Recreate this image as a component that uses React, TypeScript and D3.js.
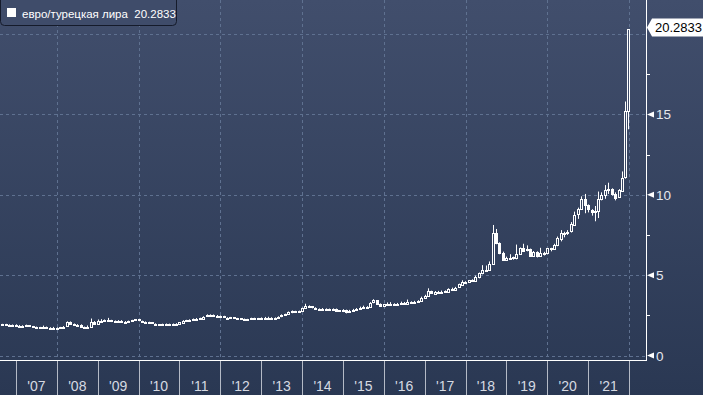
import React, { useEffect, useRef } from 'react';
import * as d3 from 'd3';

// monthly candles, Aug 2006 .. Dec 2021 (EUR/TRY)
const startMonth = new Date(2006, 7, 1);
const lastBarDate = new Date(2021, 11, 20);
const seriesName = 'евро/турецкая лира';
const lastPrice = '20.2833';

const opens = [
  1.92, 1.94, 1.92, 1.89, 1.90,
  1.86, 1.84, 1.85, 1.87, 1.82, 1.79, 1.76, 1.71, 1.78, 1.72, 1.72, 1.74,
  1.70, 1.77, 1.80, 2.07, 1.97, 1.91, 1.92, 1.78, 1.72, 1.80, 2.10, 1.99,
  2.15, 2.17, 2.21, 2.19, 2.12, 2.14, 2.15, 2.11, 2.08, 2.15, 2.19, 2.24,
  2.15, 2.09, 2.09, 2.06, 1.99, 1.95, 1.93, 1.95, 1.92, 1.96, 1.98, 1.96,
  2.06, 2.17, 2.19, 2.19, 2.27, 2.27, 2.32, 2.42, 2.50, 2.51, 2.42, 2.45,
  2.44, 2.36, 2.36, 2.37, 2.30, 2.31, 2.29, 2.22, 2.26, 2.32, 2.32, 2.31,
  2.36, 2.33, 2.36, 2.32, 2.34, 2.42, 2.51, 2.57, 2.71, 2.75, 2.75, 2.76,
  2.96, 3.10, 3.05, 2.96, 2.88, 2.85, 2.90, 2.87, 2.86, 2.90, 2.80, 2.77,
  2.83, 2.73, 2.79, 2.83, 2.91, 2.97, 3.02, 3.03, 3.29, 3.43, 3.20, 3.07,
  3.18, 3.22, 3.18, 3.20, 3.23, 3.28, 3.19, 3.31, 3.30, 3.35, 3.40, 3.58,
  3.71, 4.00, 3.86, 3.97, 3.89, 3.96, 4.00, 4.16, 4.13, 4.23, 4.42, 4.58,
  4.55, 4.68, 4.66, 4.88, 5.13, 5.32, 5.33, 5.70, 7.60, 6.98, 6.35, 5.93,
  6.06, 6.04, 6.10, 6.33, 6.70, 6.54, 6.63, 6.17, 6.41, 6.17, 6.37, 6.35,
  6.66, 6.61, 6.88, 7.29, 7.65, 7.65, 7.70, 8.15, 8.77, 9.10, 9.75, 9.35,
  9.08, 8.94, 9.01, 9.76, 9.99, 10.32, 10.35, 10.06, 9.83, 10.29, 11.07, 15.20,
];

const highs = [
  1.97, 1.97, 1.94, 1.93, 1.94,
  1.90, 1.88, 1.92, 1.88, 1.84, 1.80, 1.78, 1.86, 1.80, 1.76, 1.78, 1.75,
  1.78, 1.83, 2.12, 2.12, 1.99, 1.95, 1.94, 1.80, 1.87, 2.30, 2.14, 2.24,
  2.26, 2.24, 2.34, 2.22, 2.18, 2.20, 2.20, 2.14, 2.17, 2.22, 2.26, 2.25,
  2.17, 2.12, 2.10, 2.07, 2.00, 1.96, 1.98, 1.99, 1.98, 1.99, 2.01, 2.08,
  2.20, 2.22, 2.25, 2.30, 2.33, 2.35, 2.44, 2.56, 2.56, 2.55, 2.52, 2.49,
  2.47, 2.38, 2.40, 2.38, 2.34, 2.33, 2.30, 2.28, 2.35, 2.35, 2.34, 2.37,
  2.40, 2.41, 2.38, 2.37, 2.44, 2.56, 2.60, 2.74, 2.80, 2.78, 2.79, 2.98,
  3.22, 3.12, 3.08, 3.00, 2.93, 2.95, 2.93, 2.92, 2.93, 2.92, 2.82, 2.88,
  2.85, 2.84, 2.90, 2.95, 3.04, 3.10, 3.07, 3.32, 3.50, 3.45, 3.24, 3.21,
  3.30, 3.32, 3.25, 3.27, 3.35, 3.33, 3.48, 3.37, 3.40, 3.44, 3.66, 3.78,
  4.18, 4.03, 4.01, 4.02, 4.04, 4.05, 4.18, 4.22, 4.27, 4.47, 4.68, 4.62,
  4.70, 4.74, 4.97, 5.16, 5.62, 5.60, 5.85, 8.12, 7.87, 7.04, 6.46, 6.15,
  6.30, 6.15, 6.90, 6.72, 6.95, 6.85, 6.65, 6.50, 6.48, 6.70, 6.45, 6.68,
  6.70, 6.95, 7.40, 7.80, 7.70, 7.80, 8.30, 8.95, 9.20, 9.90, 10.05, 9.40,
  9.10, 9.30, 10.20, 10.15, 10.60, 10.75, 10.40, 10.15, 10.35, 11.45, 15.80, 20.30,
];

const lows = [
  1.89, 1.90, 1.86, 1.86, 1.84,
  1.83, 1.82, 1.84, 1.80, 1.77, 1.74, 1.68, 1.70, 1.70, 1.69, 1.70, 1.67,
  1.69, 1.75, 1.79, 1.93, 1.88, 1.86, 1.76, 1.69, 1.70, 1.79, 1.93, 1.97,
  2.08, 2.12, 2.17, 2.08, 2.09, 2.11, 2.10, 2.07, 2.06, 2.13, 2.16, 2.13,
  2.07, 2.05, 2.03, 1.98, 1.88, 1.86, 1.90, 1.90, 1.91, 1.94, 1.93, 1.95,
  2.05, 2.13, 2.17, 2.16, 2.24, 2.25, 2.28, 2.40, 2.44, 2.40, 2.41, 2.41,
  2.33, 2.31, 2.33, 2.29, 2.27, 2.27, 2.18, 2.19, 2.25, 2.30, 2.28, 2.29,
  2.32, 2.32, 2.29, 2.30, 2.31, 2.38, 2.49, 2.55, 2.63, 2.67, 2.70, 2.75,
  2.94, 2.99, 2.93, 2.88, 2.81, 2.84, 2.83, 2.83, 2.79, 2.78, 2.74, 2.70,
  2.62, 2.70, 2.76, 2.82, 2.88, 2.94, 2.92, 3.02, 3.25, 3.17, 3.04, 3.06,
  3.15, 3.19, 3.12, 3.17, 3.21, 3.18, 3.17, 3.24, 3.28, 3.32, 3.38, 3.56,
  3.69, 3.83, 3.83, 3.85, 3.88, 3.93, 3.99, 4.07, 4.05, 4.21, 4.40, 4.51,
  4.52, 4.60, 4.65, 4.80, 5.05, 5.24, 5.30, 5.68, 6.92, 6.30, 5.90, 5.90,
  5.96, 5.96, 5.98, 6.28, 6.50, 6.48, 6.13, 6.15, 6.10, 6.15, 6.22, 6.30,
  6.48, 6.58, 6.80, 7.10, 7.35, 7.50, 7.65, 8.10, 8.50, 9.05, 8.85, 8.90,
  8.70, 8.35, 8.55, 9.65, 9.75, 10.05, 9.95, 9.65, 9.80, 10.25, 11.00, 14.07,
];

const closes = [
  1.94, 1.92, 1.89, 1.90, 1.86,
  1.84, 1.85, 1.87, 1.82, 1.79, 1.76, 1.71, 1.78, 1.72, 1.72, 1.74, 1.70,
  1.77, 1.80, 2.07, 1.97, 1.91, 1.92, 1.78, 1.72, 1.80, 2.10, 1.99, 2.15,
  2.17, 2.21, 2.19, 2.12, 2.14, 2.15, 2.11, 2.08, 2.15, 2.19, 2.24, 2.15,
  2.09, 2.09, 2.06, 1.99, 1.95, 1.93, 1.95, 1.92, 1.96, 1.98, 1.96, 2.06,
  2.17, 2.19, 2.19, 2.27, 2.27, 2.32, 2.42, 2.50, 2.51, 2.42, 2.45, 2.44,
  2.36, 2.36, 2.37, 2.30, 2.31, 2.29, 2.22, 2.26, 2.32, 2.32, 2.31, 2.36,
  2.33, 2.36, 2.32, 2.34, 2.42, 2.51, 2.57, 2.71, 2.75, 2.75, 2.76, 2.96,
  3.10, 3.05, 2.96, 2.88, 2.85, 2.90, 2.87, 2.86, 2.90, 2.80, 2.77, 2.83,
  2.73, 2.79, 2.83, 2.91, 2.97, 3.02, 3.03, 3.29, 3.43, 3.20, 3.07, 3.18,
  3.22, 3.18, 3.20, 3.23, 3.28, 3.19, 3.31, 3.30, 3.35, 3.40, 3.58, 3.71,
  4.00, 3.86, 3.97, 3.89, 3.96, 4.00, 4.16, 4.13, 4.23, 4.42, 4.58, 4.55,
  4.68, 4.66, 4.88, 5.13, 5.32, 5.33, 5.70, 7.60, 6.98, 6.35, 5.93, 6.06,
  6.04, 6.10, 6.33, 6.70, 6.54, 6.63, 6.17, 6.41, 6.17, 6.37, 6.35, 6.66,
  6.61, 6.88, 7.29, 7.65, 7.65, 7.70, 8.15, 8.77, 9.10, 9.75, 9.35, 9.08,
  8.94, 9.01, 9.76, 9.99, 10.32, 10.35, 10.06, 9.83, 10.29, 11.07, 15.20, 20.28,
];

const yearTicks = d3.range(2007, 2022);
const yTicks = [0, 5, 10, 15];
const yMinorTicks = [2.5, 7.5, 12.5, 17.5];

const W = 703;
const H = 395;
const plotRight = 646;
const plotBottom = 360;
const FONT = '"Liberation Sans", Arial, sans-serif';

const App: React.FC = () => {
  const svgRef = useRef<SVGSVGElement>(null);

  useEffect(() => {
    if (!svgRef.current) return;
    const svg = d3.select(svgRef.current);
    svg.selectAll('*').remove();

    const data = closes.map((c, i) => ({
      date: i === closes.length - 1
        ? lastBarDate
        : d3.timeDay.offset(d3.timeMonth.offset(startMonth, i + 1), -1),
      open: opens[i],
      high: highs[i],
      low: lows[i],
      close: c,
    }));

    const x = d3.scaleTime()
      .domain([new Date(2007, 0, 1), new Date(2022, 0, 1)])
      .range([16, 629]);
    const y = d3.scaleLinear().domain([0, 20]).range([355.5, 34]);
    const px = (v: number) => Math.round(v) + 0.5;

    const defs = svg.append('defs');
    const grad = defs.append('linearGradient')
      .attr('id', 'bg').attr('gradientUnits', 'userSpaceOnUse')
      .attr('x1', 0).attr('y1', 0).attr('x2', 0).attr('y2', H);
    grad.append('stop').attr('offset', '0%').attr('stop-color', '#414e6c');
    grad.append('stop').attr('offset', '100%').attr('stop-color', '#2a3853');
    defs.append('clipPath').attr('id', 'plot')
      .append('rect').attr('x', 0).attr('y', 0).attr('width', plotRight).attr('height', plotBottom);

    svg.append('rect').attr('width', W).attr('height', H).attr('fill', 'url(#bg)');

    // dashed grid
    const grid = svg.append('g')
      .attr('stroke', '#5f7190').attr('stroke-width', 1).attr('stroke-dasharray', '3,3');
    [0, 5, 10, 15, 20].forEach(v => {
      grid.append('line')
        .attr('x1', 0).attr('x2', plotRight)
        .attr('y1', px(y(v))).attr('y2', px(y(v)));
    });
    d3.range(2008, 2023, 2).forEach(yr => {
      const gx = px(x(new Date(yr, 0, 1)));
      grid.append('line').attr('x1', gx).attr('x2', gx).attr('y1', 0).attr('y2', plotBottom);
    });

    // candles: hollow when up, filled white when down
    const candles = svg.append('g').attr('clip-path', 'url(#plot)');
    const g = candles.selectAll('g.c').data(data).enter().append('g').attr('class', 'c');
    g.append('line')
      .attr('x1', d => px(x(d.date))).attr('x2', d => px(x(d.date)))
      .attr('y1', d => y(d.high)).attr('y2', d => y(d.low))
      .attr('stroke', '#ffffff').attr('stroke-width', 1);
    g.append('rect')
      .attr('x', d => px(x(d.date)) - 1)
      .attr('width', 2)
      .attr('y', d => Math.round(y(Math.max(d.open, d.close))) + 0.5)
      .attr('height', d => Math.max(1, Math.round(Math.abs(y(d.open) - y(d.close)))))
      .attr('fill', d => d.close >= d.open ? 'url(#bg)' : '#ffffff')
      .attr('stroke', '#ffffff').attr('stroke-width', 1);

    // axes lines
    svg.append('line').attr('x1', 0).attr('x2', plotRight + 0.5)
      .attr('y1', plotBottom + 0.5).attr('y2', plotBottom + 0.5)
      .attr('stroke', '#ffffff');
    svg.append('line').attr('x1', plotRight + 0.5).attr('x2', plotRight + 0.5)
      .attr('y1', 0).attr('y2', plotBottom + 1)
      .attr('stroke', '#ffffff');

    // year separators and labels
    const xa = svg.append('g');
    d3.range(2007, 2023).forEach(yr => {
      const sx = px(x(new Date(yr, 0, 1)));
      xa.append('line').attr('x1', sx).attr('x2', sx)
        .attr('y1', plotBottom + 1).attr('y2', H)
        .attr('stroke', '#b4bac6');
    });
    yearTicks.forEach(yr => {
      const cx = (x(new Date(yr, 0, 1)) + x(new Date(yr + 1, 0, 1))) / 2;
      xa.append('text')
        .attr('x', cx).attr('y', 391)
        .attr('text-anchor', 'middle')
        .attr('font-family', FONT).attr('font-size', 14)
        .attr('fill', '#d6dae2')
        .text(`'${String(yr).slice(2)}`);
    });

    // right axis
    const ya = svg.append('g');
    yMinorTicks.forEach(v => {
      ya.append('line').attr('x1', plotRight).attr('x2', plotRight + 4)
        .attr('y1', px(y(v))).attr('y2', px(y(v))).attr('stroke', '#ffffff');
    });
    yTicks.forEach(v => {
      const ty = y(v);
      ya.append('path')
        .attr('d', `M${plotRight + 1},${ty} L${plotRight + 8},${ty - 3} L${plotRight + 8},${ty + 3} Z`)
        .attr('fill', '#ffffff');
      ya.append('text')
        .attr('x', plotRight + 10).attr('y', ty + 5)
        .attr('font-family', FONT).attr('font-size', 13.5)
        .attr('fill', '#e6e8ee')
        .text(String(v));
    });

    // last price tag
    const ly = y(20.2833) - 2;
    ya.append('path')
      .attr('d', `M${plotRight + 1},${ly} L${plotRight + 6},${ly - 9} L${W},${ly - 9} L${W},${ly + 9} L${plotRight + 6},${ly + 9} Z`)
      .attr('fill', '#ffffff');
    ya.append('text')
      .attr('x', plotRight + 9).attr('y', ly + 5)
      .attr('font-family', FONT).attr('font-size', 13)
      .attr('fill', '#000000')
      .text(lastPrice);

    // legend
    const lg = svg.append('g');
    lg.append('rect')
      .attr('x', 0.5).attr('y', -5).attr('width', 176).attr('height', 30.5).attr('rx', 4)
      .attr('fill', '#3f4c6a').attr('stroke', '#151b2b').attr('stroke-width', 1);
    lg.append('rect').attr('x', 7).attr('y', 8).attr('width', 9).attr('height', 9).attr('fill', '#ffffff');
    lg.append('text')
      .attr('x', 22).attr('y', 17.5)
      .attr('font-family', FONT).attr('font-size', 11.5)
      .attr('fill', '#ffffff')
      .attr('xml:space', 'preserve')
      .text(`${seriesName}  ${lastPrice}`);
  }, []);

  return (
    <svg
      ref={svgRef}
      width={W}
      height={H}
      style={{ position: 'absolute', left: 0, top: 0, display: 'block' }}
    />
  );
};

export default App;
